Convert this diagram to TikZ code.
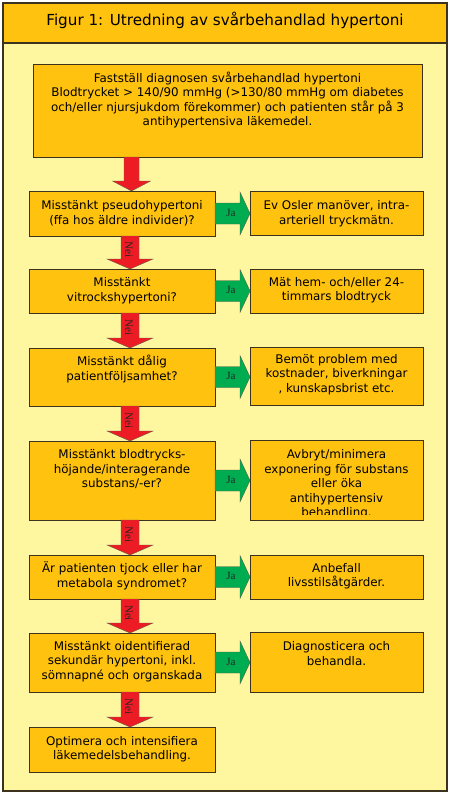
\documentclass[tikz,border=0pt]{standalone}
\usepackage{fontspec}
\setmainfont{DejaVu Sans}
\newfontfamily\lblfont{Liberation Serif}
\usetikzlibrary{calc}
\definecolor{bgyel}{RGB}{255,246,160}
\definecolor{boxor}{RGB}{255,194,14}
\definecolor{arrred}{RGB}{237,28,36}
\definecolor{arrgreen}{RGB}{0,172,80}
\definecolor{edge}{RGB}{60,50,30}
\tikzset{
  box/.style={draw=edge, line width=0.9pt, fill=boxor, inner sep=0pt, outer sep=0pt},
  txt/.style={align=center, inner sep=0pt, font=\fontsize{11.9}{14.5}\selectfont, text=black},
  redarrow/.style={fill=arrred, draw=edge!80, line width=0.4pt},
  greenarrow/.style={fill=arrgreen, draw=edge!80, line width=0.4pt},
  neilbl/.style={rotate=-90, inner sep=0pt, font=\lblfont\fontsize{11}{11}\selectfont, text=black!85},
  jalbl/.style={inner sep=0pt, font=\lblfont\fontsize{11}{11}\selectfont, text=black!85},
}
% box: name, x1, y1, x2, y2
\newcommand\boxat[5]{\node[box, minimum width={(#4-#2)*1pt}, minimum height={(#5-#3)*1pt}] (#1) at ({(#2+#4)/2},{(#3+#5)/2}) {};}
% red arrow: from, to, shaft half width, head half width
\newcommand\redarr[4]{%
  \draw[redarrow] ($(#1.south -| ax)+(-#3,0)$) -- ($(#2.north -| ax)+(-#3,-10)$) -- ($(#2.north -| ax)+(-#4,-10)$) -- (#2.north -| ax) -- ($(#2.north -| ax)+(#4,-10)$) -- ($(#2.north -| ax)+(#3,-10)$) -- ($(#1.south -| ax)+(#3,0)$) -- cycle;}
\newcommand\neiarr[2]{%
  \redarr{#1}{#2}{9}{23}%
  \node[neilbl] at ($(#1.south -| ax)!0.5!(#2.north -| ax)+(-1,-3)$) {Nei};}
% green arrow: from, to
\newcommand\jaarr[2]{%
  \draw[greenarrow] ($(#1.east)+(0,-10.5)$) -- ($(#2.west |- #1.east)+(-10,-10.5)$) -- ($(#2.west |- #1.east)+(-10,-21.5)$) -- (#2.west |- #1.east) -- ($(#2.west |- #1.east)+(-10,21.5)$) -- ($(#2.west |- #1.east)+(-10,10.5)$) -- ($(#1.east)+(0,10.5)$) -- cycle;
  \node[jalbl] at ($(#1.east)+(16,-1)$) {Ja};}
\begin{document}
\begin{tikzpicture}[x=1pt, y=-1pt]
\useasboundingbox (0,0) rectangle (450,795);
\fill[white] (0,0) rectangle (450,795);
% frame and title band
\node[draw=edge, line width=1.6pt, fill=bgyel, minimum width=444pt, minimum height=788pt, inner sep=0pt] (frame) at (225,397) {};
\node[draw=edge, line width=1.6pt, fill=boxor, minimum width=444pt, minimum height=40pt, inner sep=0pt] (title) at (225,23) {};
\node[txt, font=\fontsize{15.2}{17}\selectfont] (titletext) at (225,20) {Figur 1: Utredning av svårbehandlad hypertoni};
\coordinate (ax) at (130,0);
\coordinate (ax0) at (131.5,0);
% boxes
\boxat{top}{33}{64}{422}{157}
\boxat{q2}{29}{191}{215}{236}
\boxat{r2}{250}{191}{423}{235}
\boxat{q3}{29}{269}{215}{313}
\boxat{r3}{250}{269}{423}{313}
\boxat{q4}{29}{348}{215}{406}
\boxat{r4}{250}{347}{423}{405}
\boxat{q5}{29}{441}{215}{520}
\boxat{r5}{250}{440}{423}{520}
\boxat{q6}{29}{555}{215}{599}
\boxat{r6}{250}{555}{423}{599}
\boxat{q7}{29}{633}{215}{692}
\boxat{r7}{250}{632}{423}{692}
\boxat{q8}{29}{727}{215}{772}
% arrows
\draw[redarrow] ($(top.south -| ax0)+(-7.5,0)$) -- ($(q2.north -| ax0)+(-7.5,-10)$) -- ($(q2.north -| ax0)+(-19,-10)$) -- (q2.north -| ax0) -- ($(q2.north -| ax0)+(19,-10)$) -- ($(q2.north -| ax0)+(7.5,-10)$) -- ($(top.south -| ax0)+(7.5,0)$) -- cycle;
\neiarr{q2}{q3}
\neiarr{q3}{q4}
\neiarr{q4}{q5}
\neiarr{q5}{q6}
\neiarr{q6}{q7}
\neiarr{q7}{q8}
\jaarr{q2}{r2}
\jaarr{q3}{r3}
\jaarr{q4}{r4}
\jaarr{q5}{r5}
\jaarr{q6}{r6}
\jaarr{q7}{r7}
% texts
\node[txt] (ttop) at (227.5,100) {Fastställ diagnosen svårbehandlad hypertoni\\Blodtrycket > 140/90 mmHg (>130/80 mmHg om diabetes\\och/eller njursjukdom förekommer) och patienten står på 3\\antihypertensiva läkemedel.};
\node[txt] (tq2) at (122,213.5) {Misstänkt pseudohypertoni\\(ffa hos äldre individer)?};
\node[txt] (tr2) at (336.5,213.5) {Ev Osler manöver, intra-\\arteriell tryckmätn.};
\node[txt] (tq3) at (122,290.5) {Misstänkt\\vitrockshypertoni?};
\node[txt] (tr3) at (336.5,290) {Mät hem- och/eller 24-\\timmars blodtryck};
\node[txt] (tq4) at (122,369) {Misstänkt dålig\\patientföljsamhet?};
\node[txt] (tr4) at (336.5,374.5) {Bemöt problem med\\kostnader, biverkningar\\, kunskapsbrist etc.};
\node[txt] (tq5) at (122,469.5) {Misstänkt blodtrycks-\\höjande/interagerande\\substans/-er?};
\begin{scope}
\clip (252,442) rectangle (421,514.5);
\node[txt] (tr5) at (336.5,484.5) {Avbryt/minimera\\exponering för substans\\eller öka\\antihypertensiv\\behandling.};
\end{scope}
\node[txt] (tq6) at (122,576) {Är patienten tjock eller har\\metabola syndromet?};
\node[txt] (tr6) at (336.5,576) {Anbefall\\livsstilsåtgärder.};
\node[txt] (tq7) at (122,661.5) {Misstänkt oidentifierad\\sekundär hypertoni, inkl.\\sömnapné och organskada};
\node[txt] (tr7) at (336.5,653.5) {Diagnosticera och\\behandla.};
\node[txt] (tq8) at (122,749) {Optimera och intensifiera\\läkemedelsbehandling.};
\end{tikzpicture}
\end{document}
